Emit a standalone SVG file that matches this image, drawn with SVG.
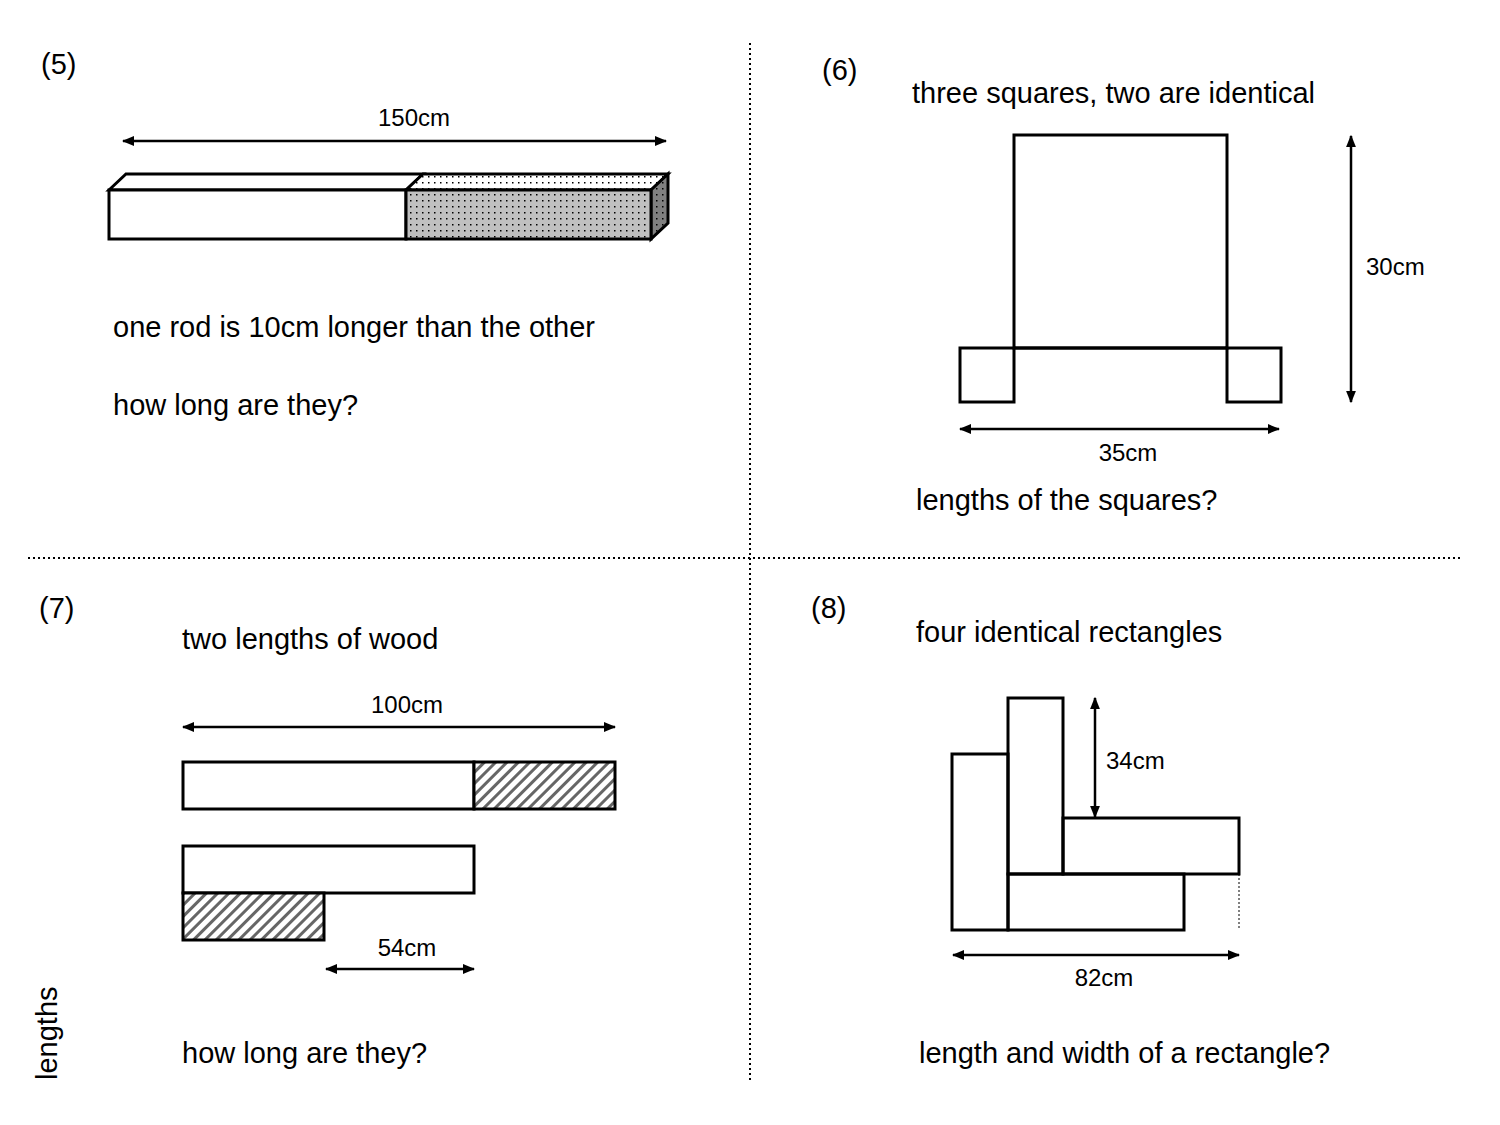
<svg xmlns="http://www.w3.org/2000/svg" width="1500" height="1125" viewBox="0 0 1500 1125">
<style>
text{font-family:"Liberation Sans",Arial,sans-serif;fill:#000}
.t{font-size:29px}.s{font-size:24px}
.o{fill:none;stroke:#000;stroke-width:3}
.w{fill:#fff;stroke:#000;stroke-width:3}
.a{stroke:#000;stroke-width:2.5;fill:none;marker-start:url(#m);marker-end:url(#m)}
</style>
<defs>
<marker id="m" viewBox="0 0 10 10" refX="9" refY="5" markerWidth="5" markerHeight="5" orient="auto-start-reverse"><path d="M0,1 L10,5 L0,9 Z" fill="#000"/></marker>
<pattern id="dots" width="6" height="6" patternUnits="userSpaceOnUse"><rect width="6" height="6" fill="#c0c0c0"/><rect x="2" y="2" width="1.5" height="1.5" fill="#000"/></pattern>
<pattern id="dotsw" width="6" height="6" patternUnits="userSpaceOnUse"><rect width="6" height="6" fill="#fff"/><rect x="2" y="2" width="1.5" height="1.5" fill="#000"/></pattern>
<pattern id="dotsd" width="6" height="6" patternUnits="userSpaceOnUse"><rect width="6" height="6" fill="#808080"/><rect x="2" y="2" width="1.5" height="1.5" fill="#000"/></pattern>
<pattern id="hatch" width="8" height="8" patternUnits="userSpaceOnUse" patternTransform="rotate(45)"><rect width="8" height="8" fill="#fff"/><rect width="3" height="8" fill="#666"/></pattern>
</defs>
<g id="dividers" stroke="#000" stroke-width="2" stroke-dasharray="2,3">
<line x1="750" y1="43" x2="750" y2="1080"/>
<line x1="28" y1="558" x2="1460" y2="558"/>
</g>
<g id="p5">
<text class="t" x="41" y="74">(5)</text>
<text class="s" x="414" y="126" text-anchor="middle">150cm</text>
<polygon points="109,190 126,174 423,174 406,190" class="w"/>
<polygon points="406,190 423,174 668,174 651,190" fill="url(#dotsw)" stroke="#000" stroke-width="3"/>
<polygon points="651,190 668,174 668,223 651,239" fill="url(#dotsd)" stroke="#000" stroke-width="3"/>
<rect x="109" y="190" width="297" height="49" class="w"/>
<rect x="406" y="190" width="245" height="49" fill="url(#dots)" stroke="#000" stroke-width="3"/>
<text class="t" x="113" y="337">one rod is 10cm longer than the other</text>
<text class="t" x="113" y="415">how long are they?</text>
</g>
<g id="p6">
<text class="t" x="822" y="80">(6)</text>
<text class="t" x="912" y="103">three squares, two are identical</text>
<rect x="1014" y="135" width="213" height="213" class="o"/>
<rect x="960" y="348" width="54" height="54" class="o"/>
<rect x="1227" y="348" width="54" height="54" class="o"/>
<line x1="1014" y1="348" x2="1227" y2="348" class="o"/>
<text class="s" x="1366" y="275">30cm</text>
<text class="s" x="1128" y="461" text-anchor="middle">35cm</text>
<text class="t" x="916" y="510">lengths of the squares?</text>
</g>
<g id="p7">
<text class="t" x="39" y="618">(7)</text>
<text class="t" x="182" y="649">two lengths of wood</text>
<text class="s" x="407" y="713" text-anchor="middle">100cm</text>
<rect x="183" y="762" width="291" height="47" class="w"/>
<rect x="474" y="762" width="141" height="47" fill="url(#hatch)" stroke="#000" stroke-width="3"/>
<rect x="183" y="846" width="291" height="47" class="w"/>
<rect x="183" y="893" width="141" height="47" fill="url(#hatch)" stroke="#000" stroke-width="3"/>
<text class="s" x="407" y="956" text-anchor="middle">54cm</text>
<text class="t" x="182" y="1063">how long are they?</text>
<text class="t" transform="translate(57,1080) rotate(-90)">lengths</text>
</g>
<g id="p8">
<text class="t" x="811" y="618">(8)</text>
<text class="t" x="916" y="642">four identical rectangles</text>
<rect x="952" y="754" width="56" height="176" class="o"/>
<rect x="1008" y="698" width="55" height="176" class="o"/>
<rect x="1063" y="818" width="176" height="56" class="o"/>
<rect x="1008" y="874" width="176" height="56" class="o"/>
<line x1="1239" y1="874" x2="1239" y2="930" stroke="#000" stroke-width="1" stroke-dasharray="2,2"/>
<text class="s" x="1106" y="769">34cm</text>
<text class="s" x="1104" y="986" text-anchor="middle">82cm</text>
<text class="t" x="919" y="1063">length and width of a rectangle?</text>
</g>
<g id="connectors">
<line x1="123" y1="141" x2="666" y2="141" class="a"/>
<line x1="1351" y1="136" x2="1351" y2="402" class="a"/>
<line x1="960" y1="429" x2="1279" y2="429" class="a"/>
<line x1="183" y1="727" x2="615" y2="727" class="a"/>
<line x1="326" y1="969" x2="474" y2="969" class="a"/>
<line x1="1095" y1="698" x2="1095" y2="817" class="a"/>
<line x1="953" y1="955" x2="1239" y2="955" class="a"/>
</g>
</svg>
